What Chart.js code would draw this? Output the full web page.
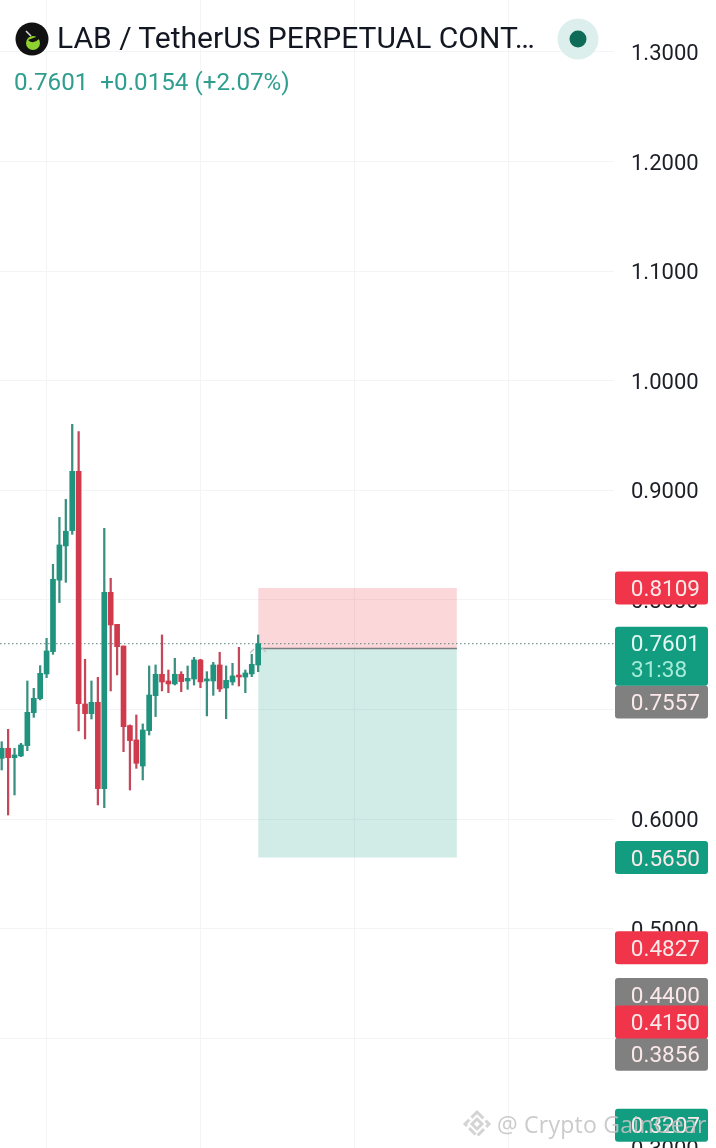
<!DOCTYPE html>
<html>
<head>
<meta charset="utf-8">
<script src="https://cdn.jsdelivr.net/npm/chart.js@4/dist/chart.umd.min.js"></script>
<style>
    html, body { margin: 0; padding: 0; background: #fff; width: 716px; height: 1148px; overflow: hidden; font-family: Roboto, sans-serif; }
    #wrap { position: relative; width: 716px; height: 1148px; }
    canvas { position: absolute; left: 0; top: 0; }
    .over { position: absolute; white-space: pre; }
    #title { left: 57px; top: 21px; font-size: 30px; line-height: 34px; color: #131722; }
    #quote { left: 14px; top: 67px; font-size: 24.2px; line-height: 30px; color: #2f9e8f; }
    #mark { left: 497px; top: 1108px; font-family: "Open Sans", sans-serif; font-size: 23px; line-height: 32px; color: rgba(196,196,196,.88); letter-spacing: .25px; }
    svg { position: absolute; left: 0; top: 0; }
</style>
</head>
<body>
<div id="wrap">
    <canvas id="priceChart" width="716" height="1148"></canvas>
    <svg width="716" height="1148">
        <!-- coin logo -->
        <circle cx="32" cy="39" r="16.5" fill="#111"/>
        <circle cx="33" cy="43" r="7" fill="#8fd12f"/>
        <path d="M28 40 q5 5 11 -1 l0 -3 q-6 2 -11 4z" fill="#111"/>
        <path d="M26 31 l5 5" stroke="#ddd" stroke-width="1.5"/>
        <!-- market status dot -->
        <circle cx="578" cy="39" r="20.5" fill="#dcefec"/>
        <circle cx="578" cy="39" r="8.5" fill="#0d6b58"/>
        <!-- faint drawing handles by the last candle -->
        <path d="M250 653 l4 -4 M262 648 l4 4" stroke="#b9c4c2" stroke-width="1.3" fill="none"/>
        <!-- watermark logo -->
        <g fill="none" stroke="#d4d4d4" stroke-width="3" transform="translate(477 1124)">
            <path d="M0 -12 L12 0 L0 12 L-12 0 Z" stroke-dasharray="9 3"/>
            <path d="M0 -5 L5 0 L0 5 L-5 0 Z"/>
        </g>
    </svg>
    <div class="over" id="title">LAB / TetherUS PERPETUAL CONT…</div>
    <div class="over" id="quote">0.7601  +0.0154 (+2.07%)</div>
    <div class="over" id="mark">@ Crypto GainGear</div>
</div>
<script>
    // Candles
    const opens  = [.6555,.6647,.6561,.6577,.6671,.6972,.7100,.7325,.7529,.8181,.8493,.8633,.9174,.7051,.6963,.7066,.6279,.8070,.7778,.7580,.6854,.6723,.6485,.6808,.7127,.7322,.7261,.7234,.7322,.7261,.7279,.7453,.7261,.7261,.7407,.7197,.7252,.7307,.7297,.7325,.7407];
    const highs  = [.6707,.6820,.6647,.6692,.7261,.7194,.7401,.7650,.8325,.8754,.8918,.9603,.9536,.7459,.7261,.7294,.8654,.8198,.7778,.7580,.6860,.6951,.6869,.7398,.7407,.7681,.7361,.7468,.7346,.7398,.7477,.7459,.7346,.7431,.7523,.7398,.7422,.7568,.7361,.7504,.7681];
    const lows   = [.6449,.6038,.6221,.6570,.6625,.6929,.7088,.7291,.7504,.7976,.8161,.8599,.6805,.6732,.6914,.6130,.6105,.7170,.7316,.6616,.6266,.6464,.6358,.6768,.6936,.7170,.7154,.7224,.7164,.7185,.7224,.7200,.6942,.7130,.7164,.6917,.7224,.7215,.7154,.7300,.7346];
    const closes = [.6647,.6561,.6586,.6677,.6975,.7103,.7331,.7535,.8189,.8502,.8627,.9174,.7054,.6963,.7066,.6279,.8070,.7772,.7574,.6844,.6717,.6510,.6814,.7133,.7322,.7252,.7234,.7322,.7255,.7285,.7453,.7252,.7270,.7407,.7188,.7267,.7307,.7297,.7334,.7413,.7601];

    const yTicks = [1.3, 1.2, 1.1, 1.0, .9, .8, .7, .6, .5, .4, .3];
    const xGrid = [7, 31, 55, 79];

    // Long position tool
    const lastPrice = .7601;
    const entryPrice = .7557;
    const stopPrice = .8109;
    const targetPrice = .5650;
    const toolStart = 40;
    const toolEnd = 71;

    // Price tags on the right axis
    const tagValues = [.4400, .3856, .7557, .8109, .5650, .4827, .4150, .3207];
    const tagKinds = ['grey', 'grey', 'grey', 'red', 'green', 'red', 'red', 'green'];

    const GREEN = '#1f937e';
    const RED = '#d03a4d';
    const WICK_GREEN = '#3a8f80';
    const WICK_RED = '#c4475a';
    const TAG = { grey: '#808080', red: '#f0354a', green: '#129c80' };
    const xMin = -0.265, xMax = 95.5;

    const candleIdx = opens.map((_, i) => i);
    const candleCol = candleIdx.map(i => closes[i] >= opens[i] ? GREEN : RED);
    const wickCol = candleIdx.map(i => closes[i] >= opens[i] ? WICK_GREEN : WICK_RED);
    const flat = (a, b, v) => [{ x: a, y: v }, { x: b, y: v }];

    function boxDataset(top, bottom, color) {
        return {
            type: 'line',
            data: flat(toolStart, toolEnd, top),
            borderWidth: 0,
            pointRadius: 0,
            backgroundColor: color,
            fill: { value: bottom },
            order: 5
        };
    }

    const priceTags = {
        id: 'priceTags',
        afterDraw(chart) {
            const ctx = chart.ctx;
            const y = chart.scales.y;
            const box = (cy, h, color) => {
                ctx.fillStyle = color;
                ctx.beginPath();
                ctx.roundRect(615, cy - h / 2, 93, h, 3);
                ctx.fill();
            };
            ctx.save();
            ctx.font = '22.5px Roboto';
            ctx.textBaseline = 'middle';
            tagValues.forEach((v, i) => {
                // the entry tag gets pushed below the last price tag
                const cy = y.getPixelForValue(v) + (v === entryPrice ? 53.5 : 0);
                box(cy, 33, TAG[tagKinds[i]]);
                ctx.fillStyle = '#fbe9ea';
                ctx.textAlign = 'right';
                ctx.fillText(v.toFixed(4), 700, cy + 2.5);
            });
            // last price with the bar countdown
            const cy = y.getPixelForValue(lastPrice) + 12.5;
            box(cy, 59, TAG.green);
            ctx.textAlign = 'right';
            ctx.fillStyle = '#e4f7f2';
            ctx.fillText(lastPrice.toFixed(4), 700, cy - 10.5);
            ctx.fillStyle = '#a6ecd9';
            ctx.textAlign = 'left';
            ctx.fillText('31:38', 631, cy + 15);
            ctx.restore();
        }
    };

    new Chart(document.getElementById('priceChart').getContext('2d'), {
        data: {
            datasets: [
                boxDataset(stopPrice, entryPrice, 'rgba(242,54,69,.2)'),
                boxDataset(entryPrice, targetPrice, 'rgba(8,153,129,.19)'),
                {
                    type: 'line',
                    data: flat(toolStart, toolEnd, entryPrice),
                    borderColor: '#7d7d7d',
                    borderWidth: 1.5,
                    pointRadius: 0,
                    order: 4
                },
                {
                    type: 'line',
                    data: flat(xMin, xMax, lastPrice),
                    borderColor: '#5f7f7a',
                    borderWidth: 1,
                    borderDash: [1.5, 2.5],
                    pointRadius: 0,
                    order: 3
                },
                {
                    type: 'bar',
                    data: candleIdx.map(i => ({ x: i, y: [lows[i], highs[i]] })),
                    backgroundColor: wickCol,
                    barThickness: 1.6,
                    grouped: false,
                    order: 2
                },
                {
                    type: 'bar',
                    data: candleIdx.map(i => ({ x: i, y: [opens[i], closes[i]] })),
                    backgroundColor: candleCol,
                    barThickness: 5,
                    minBarLength: 2,
                    grouped: false,
                    order: 1
                }
            ]
        },
        options: {
            responsive: false,
            animation: false,
            layout: { padding: 0 },
            plugins: { legend: { display: false }, tooltip: { enabled: false } },
            scales: {
                x: {
                    type: 'linear',
                    min: xMin,
                    max: xMax,
                    offset: false,
                    afterBuildTicks: axis => { axis.ticks = xGrid.map(value => ({ value })); },
                    afterFit: axis => {
                        axis.height = 0;
                        axis.paddingLeft = axis.paddingRight = 0;
                    },
                    grid: { color: '#f3f4f6', drawTicks: false, offset: false },
                    border: { display: false },
                    ticks: { display: false }
                },
                y: {
                    position: 'right',
                    min: .3,
                    max: 1.3474,
                    afterBuildTicks: axis => { axis.ticks = yTicks.map(value => ({ value })); },
                    afterFit: axis => {
                        axis.width = 102;
                        axis.paddingTop = axis.paddingBottom = 0;
                    },
                    grid: { color: '#f3f4f6', drawTicks: false },
                    border: { display: false },
                    ticks: {
                        padding: 17,
                        labelOffset: 2.5,
                        color: '#1c1f26',
                        font: { family: 'Roboto', size: 22 },
                        autoSkip: false,
                        callback: v => v.toFixed(4)
                    }
                }
            }
        },
        plugins: [priceTags]
    });
</script>
</body>
</html>
